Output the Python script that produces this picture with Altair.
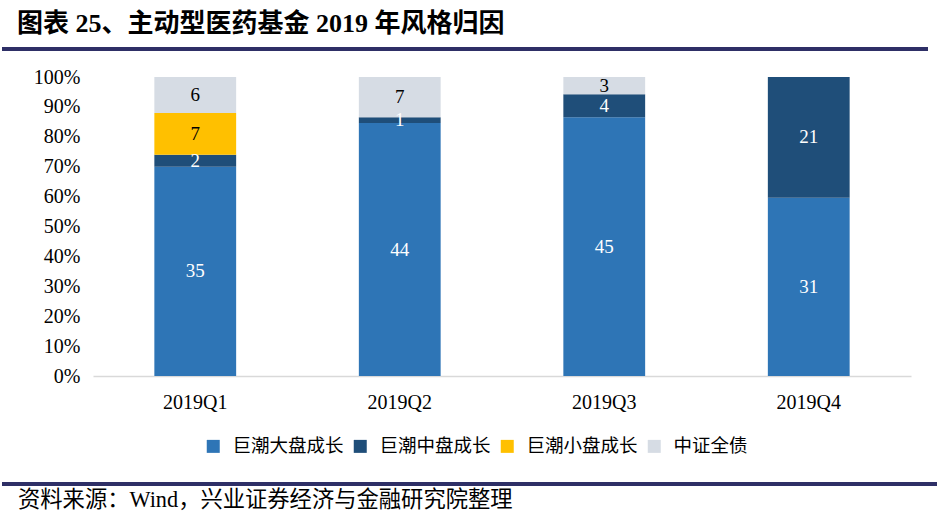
import altair as alt
import pandas as pd

quarters = ["2019Q1", "2019Q2", "2019Q3", "2019Q4"]
series = ["巨潮大盘成长", "巨潮中盘成长", "巨潮小盘成长", "中证全债"]
large_growth = [35, 44, 45, 31]
mid_growth = [2, 1, 4, 21]
small_growth = [7, 0, 0, 0]
bond_index = [6, 7, 3, 0]
colors = ["#2E75B6", "#1F4E79", "#FFC000", "#D6DCE4"]
y_ticks = [0, 0.1, 0.2, 0.3, 0.4, 0.5, 0.6, 0.7, 0.8, 0.9, 1.0]

title_text = "图表 25、主动型医药基金 2019 年风格归因"
source_text = "资料来源：Wind，兴业证券经济与金融研究院整理"

rows = []
for i, q in enumerate(quarters):
    for k, (s, vals) in enumerate(zip(series, [large_growth, mid_growth, small_growth, bond_index])):
        rows.append({"quarter": q, "series": s, "order": k, "value": vals[i]})
df = pd.DataFrame(rows)

SERIF = "Liberation Serif"
MIXED = "Liberation Serif, Noto Sans CJK SC"
CJK = "Noto Sans CJK SC"

W, H = 818, 299
LEFT, TOP = 93, 77

base = alt.Chart(df).transform_stack(
    stack="value",
    groupby=["quarter"],
    sort=[alt.SortField("order", "ascending")],
    as_=["y0", "y1"],
    offset="normalize",
).transform_calculate(mid="(datum.y0 + datum.y1) / 2")

x_axis = alt.Axis(title=None, labelAngle=0)
y_axis = alt.Axis(title=None, format=".0%", values=y_ticks, labelOverlap=False)
x_scale = alt.Scale(paddingInner=0.6, paddingOuter=0.3)
y_scale = alt.Scale(domain=[0, 1])

bars = base.mark_bar().encode(
    x=alt.X("quarter:N", sort=quarters, scale=x_scale, axis=x_axis),
    y=alt.Y("y0:Q", scale=y_scale, axis=y_axis),
    y2="y1:Q",
    color=alt.Color(
        "series:N",
        sort=series,
        scale=alt.Scale(domain=series, range=colors),
        legend=alt.Legend(
            title=None, orient="none", legendX=111, legendY=360,
            direction="horizontal", symbolType="square", symbolSize=169,
            symbolStrokeWidth=0, labelFont=CJK, labelFontSize=18.5,
            labelColor="#000000", labelOffset=10, columnPadding=7, padding=0,
        ),
    ),
)

text_white = base.transform_filter("datum.value > 0 && datum.order < 2").mark_text(
    font=SERIF, fontSize=19, color="#FFFFFF", baseline="middle"
).encode(
    x=alt.X("quarter:N", sort=quarters, scale=x_scale, axis=x_axis),
    y=alt.Y("mid:Q", scale=y_scale, axis=y_axis),
    text="value:Q",
)

text_black = base.transform_filter("datum.value > 0 && datum.order >= 2").mark_text(
    font=SERIF, fontSize=19, color="#000000", baseline="middle"
).encode(
    x=alt.X("quarter:N", sort=quarters, scale=x_scale, axis=x_axis),
    y=alt.Y("mid:Q", scale=y_scale, axis=y_axis),
    text="value:Q",
)

one = pd.DataFrame({"t": [title_text], "s": [source_text]})

title = alt.Chart(one).mark_text(
    align="left", baseline="middle", font=MIXED, fontSize=26, fontWeight="bold", color="#000000"
).encode(x=alt.value(17 - LEFT), y=alt.value(24 - TOP), text="t:N")

source = alt.Chart(one).mark_text(
    align="left", baseline="middle", font=MIXED, fontSize=22.3, color="#000000"
).encode(x=alt.value(18 - LEFT), y=alt.value(500 - TOP), text="s:N")

top_rule = alt.Chart(one).mark_rule(color="#2E2F66", strokeWidth=4).encode(
    x=alt.value(2 - LEFT), x2=alt.value(928 - LEFT), y=alt.value(49 - TOP)
)
bottom_rule = alt.Chart(one).mark_rule(color="#2E2F66", strokeWidth=4).encode(
    x=alt.value(2 - LEFT), x2=alt.value(937 - LEFT), y=alt.value(484 - TOP)
)

chart = alt.layer(bars, text_white, text_black, title, source, top_rule, bottom_rule).properties(
    width=W,
    height=H,
    autosize=alt.AutoSizeParams(type="none"),
    padding={"left": LEFT, "top": TOP, "right": 937 - LEFT - W, "bottom": 525 - TOP - H},
    background="#FFFFFF",
).configure_view(strokeWidth=0).configure_axisX(
    ticks=False, domain=True, domainColor="#D9D9D9", domainWidth=1.5, grid=False,
    labelFont=SERIF, labelFontSize=20, labelColor="#000000", labelPadding=16,
).configure_axisY(
    domain=False, ticks=False, grid=False, labelFont=SERIF, labelFontSize=20,
    labelColor="#000000", labelPadding=13, labelOverlap=False,
)

chart.save("out.html", embed_options={"renderer": "svg", "actions": False})
